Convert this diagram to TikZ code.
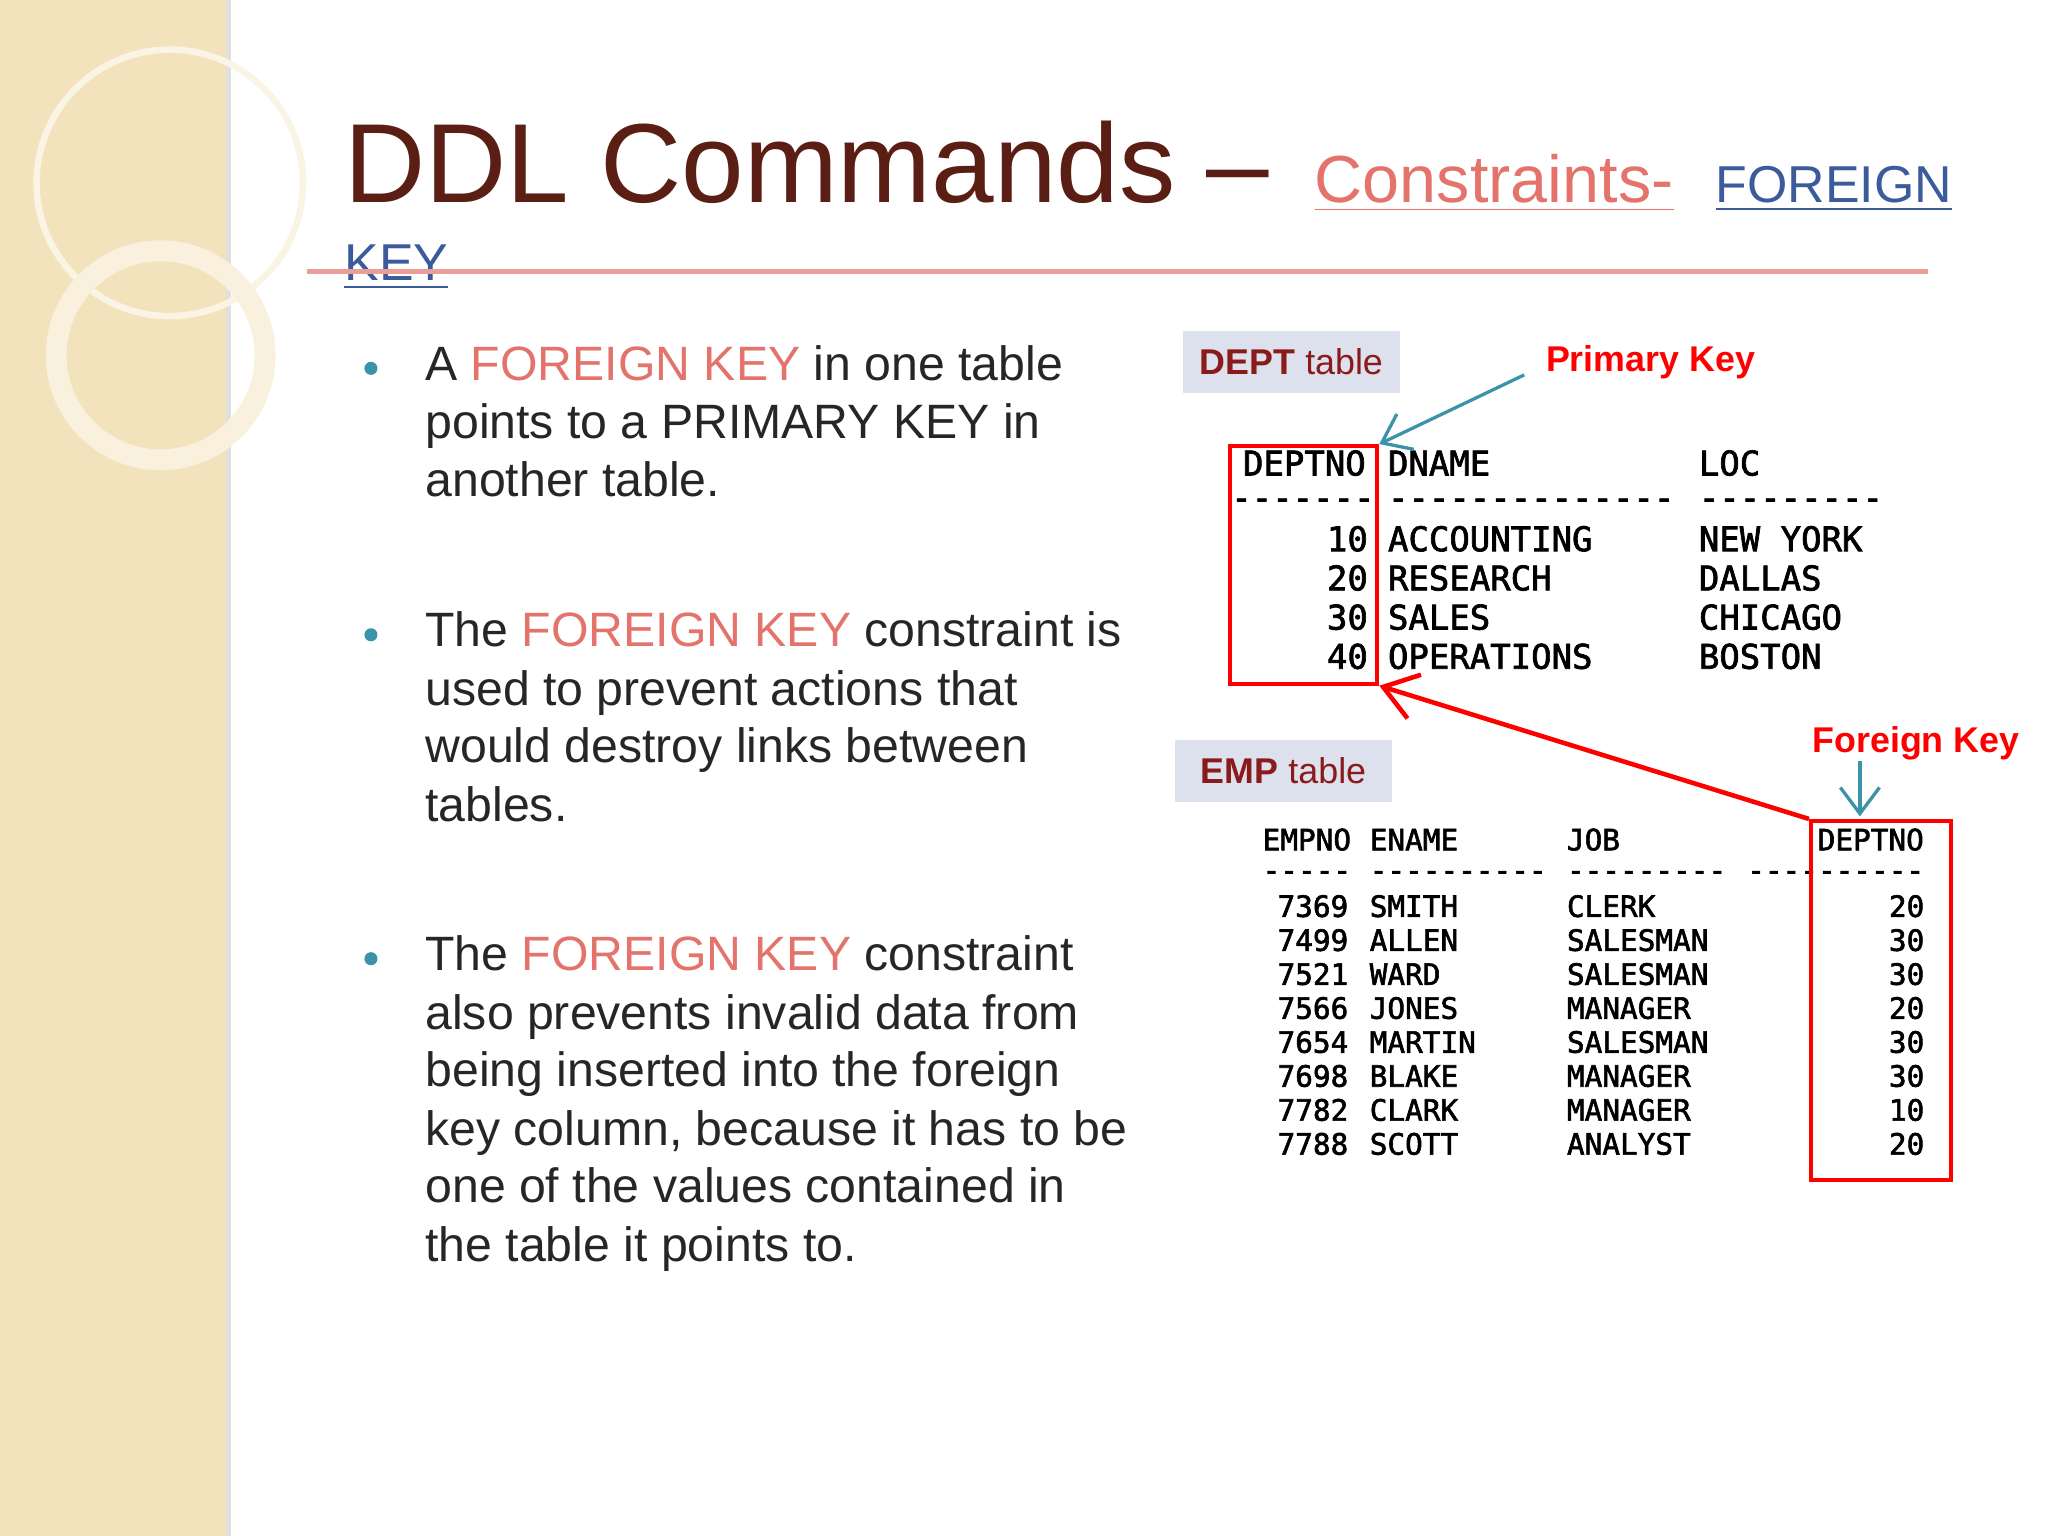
\documentclass[tikz,border=0pt]{standalone}
\usepackage{fontspec}
\setmainfont{Liberation Sans}
\newfontfamily\monob{DejaVu Sans Mono}[FakeBold=2]
\usetikzlibrary{arrows.meta}
\definecolor{beige}{HTML}{F2E3BC}
\definecolor{brownT}{HTML}{5A1E14}
\definecolor{pinkT}{HTML}{E3736B}
\definecolor{blueT}{HTML}{3B5B9A}
\definecolor{tealA}{HTML}{3A93A8}
\definecolor{lab}{HTML}{DDE1EE}
\definecolor{darkred}{HTML}{8B1A1A}
\tikzset{
 body/.style={anchor=base west,inner sep=0,font=\fontsize{10.5}{12}\selectfont,text=black!85},
 dept/.style={anchor=base west,inner sep=0,font=\monob\fontsize{7.4}{8}\selectfont},
 deptr/.style={anchor=base east,inner sep=0,font=\monob\fontsize{7.4}{8}\selectfont},
 emp/.style={anchor=base west,inner sep=0,font=\monob\fontsize{6.4}{7}\selectfont},
 empr/.style={anchor=base east,inner sep=0,font=\monob\fontsize{6.4}{7}\selectfont},
 redbox/.style={draw=red,line width=0.3mm},
 labbox/.style={fill=lab,inner sep=0},
}
\begin{document}
\begin{tikzpicture}[x=0.1mm,y=-0.1mm]
\useasboundingbox (0,0) rectangle (1568,1176);
\fill[white] (0,0) rectangle (1568,1176);
\fill[beige] (0,0) rectangle (173,1176);
\fill[black!12] (173,0) rectangle (177,1176);
\draw[white!60!beige,line width=0.5mm] (130,140) circle (102);
\draw[white!50!beige,line width=1.6mm] (123,272) circle (80);
% title
\node[anchor=base west,inner sep=0,text=brownT,font=\fontsize{24.5}{26}\selectfont] (t1) at (263,155) {DDL Commands \textendash};
\node[anchor=base west,inner sep=0,text=pinkT,font=\fontsize{14.5}{16}\selectfont] (t2) at (1006,155) {\underline{Constraints-}};
\node[anchor=base west,inner sep=0,text=blueT,font=\fontsize{11.3}{12}\selectfont] (t3) at (1313,155) {\underline{FOREIGN}};
\node[anchor=base west,inner sep=0,text=blueT,font=\fontsize{11.3}{12}\selectfont] (t4) at (263,215) {\underline{KEY}};
\draw[pinkT!70,line width=0.35mm] (235,208) -- (1476,208);
% bullets
\foreach \y/\n in {282/b1,486/b2,734/b3} \fill[tealA] (284,\y) circle (5);
\node[body] (l1) at (325,291) {A \textcolor{pinkT}{FOREIGN KEY} in one table};
\node[body] (l2) at (325,336) {points to a PRIMARY KEY in};
\node[body] (l3) at (325,380) {another table.};
\node[body] (l4) at (325,495) {The \textcolor{pinkT}{FOREIGN KEY} constraint is};
\node[body] (l5) at (325,540) {used to prevent actions that};
\node[body] (l6) at (325,584) {would destroy links between};
\node[body] (l7) at (325,629) {tables.};
\node[body] (l8) at (325,743) {The \textcolor{pinkT}{FOREIGN KEY} constraint};
\node[body] (l9) at (325,788) {also prevents invalid data from};
\node[body] (l10) at (325,832) {being inserted into the foreign};
\node[body] (l11) at (325,877) {key column, because it has to be};
\node[body] (l12) at (325,921) {one of the values contained in};
\node[body] (l13) at (325,966) {the table it points to.};
% labels
\node[labbox,minimum width=16.6mm,minimum height=4.7mm,anchor=north west,font=\fontsize{7.8}{9}\selectfont,text=darkred] (dl) at (905,253) {\textbf{DEPT} table};
\node[labbox,minimum width=16.6mm,minimum height=4.7mm,anchor=north west,font=\fontsize{7.8}{9}\selectfont,text=darkred] (el) at (899,566) {\textbf{EMP} table};
\node[anchor=west,inner sep=0,text=red,font=\bfseries\fontsize{7.8}{9}\selectfont] (pk) at (1183,277) {Primary Key};
\node[anchor=west,inner sep=0,text=red,font=\bfseries\fontsize{7.8}{9}\selectfont] (fk) at (1387,569) {Foreign Key};
% DEPT table
\node[dept] (dh1) at (951,364) {DEPTNO};
\node[dept] (dh2) at (1062,364) {DNAME};
\node[dept] (dh3) at (1300,364) {LOC};
\node[dept] (dd1) at (942,390) {-------};
\node[dept] (dd2) at (1062,390) {--------------};
\node[dept] (dd3) at (1300,390) {---------};
\foreach \y/\a/\b/\c [count=\i] in {422/10/ACCOUNTING/NEW YORK,452/20/RESEARCH/DALLAS,482/30/SALES/CHICAGO,512/40/OPERATIONS/BOSTON}{
 \node[deptr] (dn\i) at (1048,\y) {\a};
 \node[dept] (dm\i) at (1062,\y) {\b};
 \node[dept] (dlc\i) at (1300,\y) {\c};
}
% EMP table
\node[emp] (eh1) at (966,651) {EMPNO};
\node[emp] (eh2) at (1048,651) {ENAME};
\node[emp] (eh3) at (1199,651) {JOB};
\node[emp] (eh4) at (1391,651) {DEPTNO};
\node[emp] (ed1) at (966,674) {-----};
\node[emp] (ed2) at (1048,674) {----------};
\node[emp] (ed3) at (1199,674) {---------};
\node[emp] (ed4) at (1337,674) {----------};
\foreach \a/\b/\c/\d [count=\i] in {7369/SMITH/CLERK/20,7499/ALLEN/SALESMAN/30,7521/WARD/SALESMAN/30,7566/JONES/MANAGER/20,7654/MARTIN/SALESMAN/30,7698/BLAKE/MANAGER/30,7782/CLARK/MANAGER/10,7788/SCOTT/ANALYST/20}{
 \pgfmathsetmacro\yy{676+26*\i}
 \node[empr] (ea\i) at (1033,\yy) {\a};
 \node[emp] (eb\i) at (1048,\yy) {\b};
 \node[emp] (ec\i) at (1199,\yy) {\c};
 \node[empr] (ee\i) at (1474,\yy) {\d};
}
% boxes
\node[redbox,minimum width=11.3mm,minimum height=18.2mm,inner sep=0,anchor=north west] (pkbox) at (940,340) {};
\node[redbox,minimum width=10.7mm,minimum height=27.5mm,inner sep=0,anchor=north west] (fkbox) at (1385,627) {};
\draw[red,line width=0.35mm,-{Straight Barb[length=2.5mm,width=3.5mm]}] (fkbox.north west) -- (pkbox.south east);
\coordinate (pa) at (1167,287);
\draw[tealA,line width=0.25mm,-{Straight Barb[length=2mm,width=3mm]}] (pa) -- (pkbox.north east);
\coordinate (fa) at (1424,583);
\coordinate (fb) at (1424,625);
\draw[tealA,line width=0.25mm,-{Straight Barb[length=2mm,width=3mm]}] (fa) -- (fb);
\end{tikzpicture}
\end{document}
